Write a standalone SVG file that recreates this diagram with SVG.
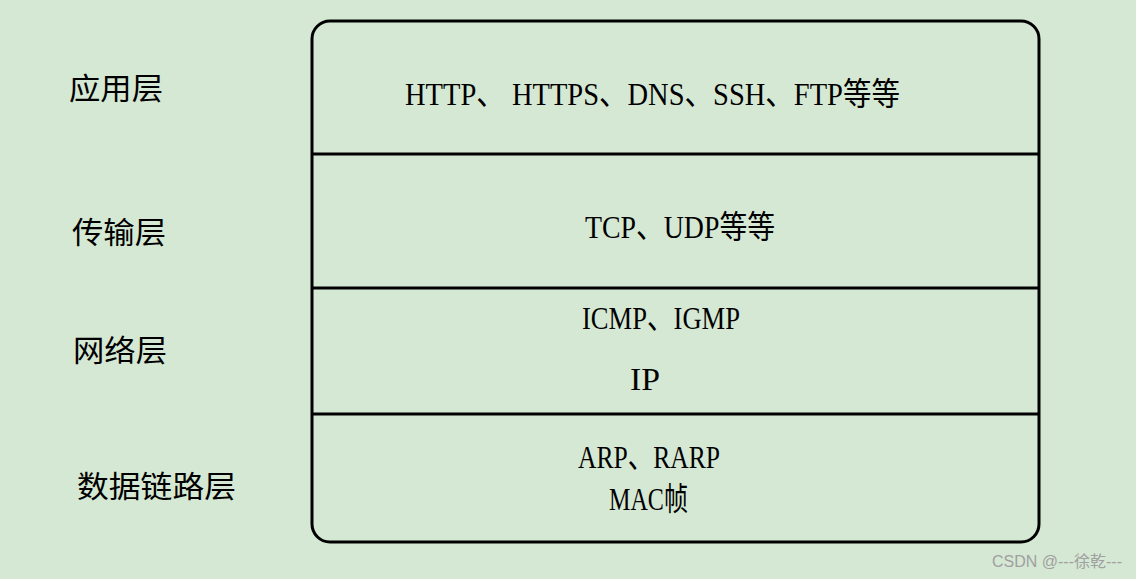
<svg xmlns="http://www.w3.org/2000/svg" width="1136" height="579" viewBox="0 0 1136 579">
<style>
.lbl{font-family:"Noto Sans CJK SC","Noto Sans",sans-serif;font-size:30px;fill:#000}
.t{font-family:"Liberation Serif","Noto Sans CJK SC",serif;font-size:32px;fill:#000}
.ln{stroke:#000;stroke-width:3;fill:none}
.wm{font-family:"Liberation Sans","Noto Sans CJK SC",sans-serif;font-size:16px;fill:#a0a0a0}
</style>
<rect x="0" y="0" width="1136" height="579" fill="#d5e8d4"/>
<g id="labels">
<text class="lbl" x="69" y="99" textLength="94" lengthAdjust="spacingAndGlyphs">应用层</text>
<text class="lbl" x="72" y="243" textLength="94" lengthAdjust="spacingAndGlyphs">传输层</text>
<text class="lbl" x="73" y="361" textLength="94" lengthAdjust="spacingAndGlyphs">网络层</text>
<text class="lbl" x="77" y="497" textLength="159" lengthAdjust="spacingAndGlyphs">数据链路层</text>
</g>
<g id="stack">
<rect class="ln" x="312" y="21" width="727" height="521" rx="18"/>
<line class="ln" x1="312" y1="154" x2="1039" y2="154"/>
<line class="ln" x1="312" y1="288" x2="1039" y2="288"/>
<line class="ln" x1="312" y1="414" x2="1039" y2="414"/>
</g>
<g id="app-layer">
<text class="t" x="405" y="105" textLength="495" lengthAdjust="spacingAndGlyphs">HTTP、 HTTPS、DNS、SSH、FTP等等</text>
</g>
<g id="transport-layer">
<text class="t" x="585" y="238" textLength="190" lengthAdjust="spacingAndGlyphs">TCP、UDP等等</text>
</g>
<g id="network-layer">
<text class="t" x="582" y="329" textLength="158" lengthAdjust="spacingAndGlyphs">ICMP、IGMP</text>
<text class="t" x="630" y="390" textLength="30" lengthAdjust="spacingAndGlyphs">IP</text>
</g>
<g id="link-layer">
<text class="t" x="578" y="468" textLength="142" lengthAdjust="spacingAndGlyphs">ARP、RARP</text>
<text class="t" x="609" y="510" textLength="79" lengthAdjust="spacingAndGlyphs">MAC帧</text>
</g>
<g id="connectors"></g>
<text class="wm" x="992" y="567">CSDN @---徐乾---</text>
</svg>
